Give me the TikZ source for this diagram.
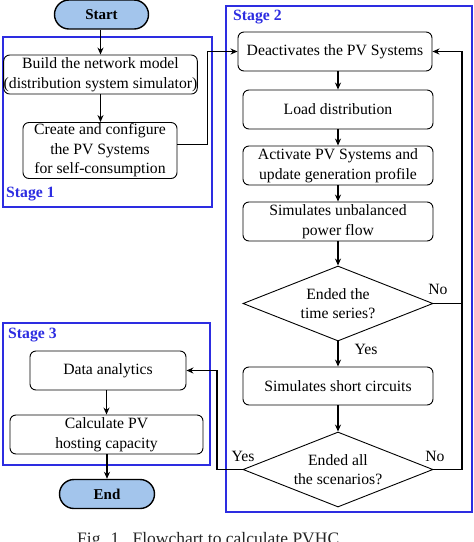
\documentclass[tikz,border=0pt]{standalone}
\usepackage{fontspec}
\setmainfont{Liberation Serif}
\usetikzlibrary{shapes.geometric,arrows.meta}
\definecolor{stageblue}{RGB}{45,45,225}
\definecolor{pillblue}{RGB}{163,197,236}
\begin{document}
\begin{tikzpicture}[x=1pt,y=-1pt,
 txt/.style={font=\fontsize{15.7}{19.5}\selectfont},
 box/.style={draw, rounded corners=6pt, line width=0.9pt, align=center, inner sep=0pt, txt},
 pill/.style={draw, line width=1.4pt, rounded corners=14.5pt, fill=pillblue, inner sep=0pt, font=\fontsize{15}{18}\selectfont\bfseries},
 dec/.style={draw, diamond, aspect=2.57, inner sep=0pt, minimum width=190pt, minimum height=75pt, line width=0.9pt, align=center, txt},
 frame/.style={draw=stageblue, line width=1.3pt},
 stagelbl/.style={text=stageblue, font=\fontsize{15.7}{18}\selectfont\bfseries, anchor=west, inner sep=0pt},
 arr/.style={-{Stealth[length=7pt,width=6pt]}, line width=1.3pt},
 lbl/.style={txt, inner sep=0pt}
]
\useasboundingbox (0,0) rectangle (474,542);
\clip (0,0) rectangle (474,542);
% frames
\draw[frame] (3,37) rectangle (212,207);
\draw[frame] (226,6) rectangle (472,512);
\draw[frame] (3,323) rectangle (210,465);
\node[stagelbl] (s1) at (6,194) {Stage 1};
\node[stagelbl] (s2) at (233,17) {Stage 2};
\node[stagelbl] (s3) at (8,335) {Stage 3};
% stage 1
\node[pill, minimum width=94pt, minimum height=29pt] (start) at (101.5,14.5) {Start};
\node[box, minimum width=193pt, minimum height=39pt] (build) at (100.5,74.5) {Build the network model\\(distribution system simulator)};
\node[box, minimum width=154pt, minimum height=56pt] (create) at (100,150.5) {Create and configure\\the PV Systems\\for self-consumption};
% stage 2
\node[box, minimum width=194pt, minimum height=39pt] (deact) at (335,51.5) {Deactivates the PV Systems};
\node[box, minimum width=190pt, minimum height=39pt] (load) at (338,109.5) {Load distribution};
\node[box, minimum width=190pt, minimum height=39pt] (activ) at (338,165.5) {Activate PV Systems and\\update generation profile};
\node[box, minimum width=190pt, minimum height=39pt] (simul) at (338,221.5) {Simulates unbalanced\\power flow};
\node[dec] (dia1) at (338,303.5) {Ended the\\time series?};
\node[box, minimum width=190pt, minimum height=38pt] (short) at (338,386) {Simulates short circuits};
\node[dec] (dia2) at (338,469.5) {Ended all\\the scenarios?};
% stage 3
\node[box, minimum width=156pt, minimum height=39pt] (data) at (108,370.5) {Data analytics};
\node[box, minimum width=193pt, minimum height=39pt] (calc) at (106.5,434.5) {Calculate PV\\hosting capacity};
\node[pill, minimum width=95pt, minimum height=29pt] (end) at (107,494) {End};
% helper coordinates
\coordinate (rr) at (462,0);
\coordinate (ll) at (217,0);
% connectors
\draw[arr] (start.south -| build.north) -- (build.north);
\draw[arr] (build.south) -- (build.south |- create.north);
\draw[arr] ([yshift=6pt]create.east) -- ++(30,0) |- (deact.west);
\draw[arr] (deact.south -| load.south) -- (load.north);
\draw[arr] (load) -- (activ);
\draw[arr] (activ) -- (simul);
\draw[arr] (simul) -- (dia1);
\draw[arr] (dia1) -- (short);
\draw[arr] (short) -- (dia2);
\draw[arr] (dia1.east) -- (dia1.east -| rr) |- (deact.east);
\draw[line width=1.3pt] (dia2.east) -| (rr |- dia1.east);
\draw[arr] (dia2.west) -- (dia2.west -| ll) |- (data.east);
\draw[arr] (data.south -| calc.north) -- (calc.north);
\draw[arr] (calc.south -| end.north) -- (end.north);
% labels
\node[lbl] (no1) at (438,289) {No};
\node[lbl] (yes1) at (366,349) {Yes};
\node[lbl] (no2) at (435,456) {No};
\node[lbl] (yes2) at (243,456) {Yes};
% caption (cut off by the picture's edge)
\node[anchor=base west, inner sep=0pt, text=black!85, font=\fontsize{17.5}{20}\selectfont] (cap) at (77,544) {Fig. 1.\enspace Flowchart to calculate PVHC};
\end{tikzpicture}
\end{document}
